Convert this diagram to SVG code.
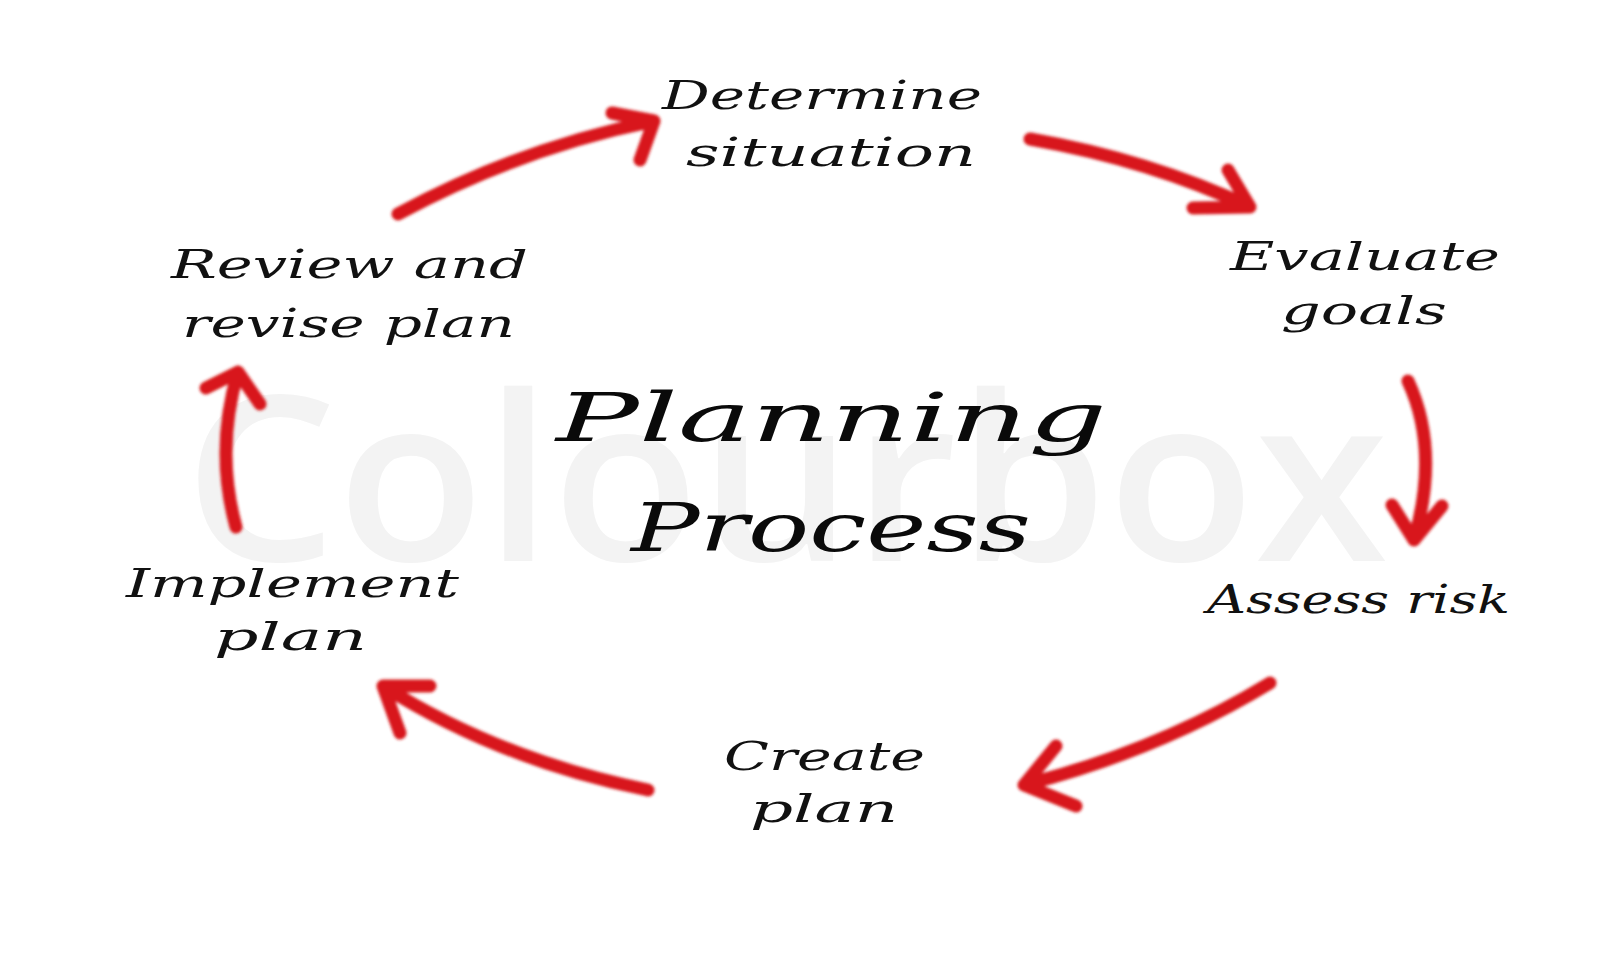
<svg xmlns="http://www.w3.org/2000/svg" width="1600" height="969" viewBox="0 0 1600 969">
<defs>
<filter id="soft" x="-10%" y="-10%" width="120%" height="120%"><feGaussianBlur stdDeviation="1.6"/></filter>
<style>
.lbl{font-family:"DejaVu Serif","Liberation Serif",serif;font-style:italic;font-size:40px;fill:#111;}
.title{font-family:"DejaVu Serif","Liberation Serif",serif;font-style:italic;font-size:68px;fill:#0a0a0a;}
.wm{font-family:"Open Sans","Liberation Sans",sans-serif;font-weight:600;font-size:230px;fill:#f3f3f3;}
.arr{fill:none;stroke:#d8161b;stroke-width:13;stroke-linecap:round;stroke-linejoin:round;}
</style>
</defs>
<rect width="1600" height="969" fill="#ffffff"/>
<text class="wm" x="184" y="561" textLength="1204" lengthAdjust="spacingAndGlyphs">Colourbox</text>
<g id="connectors" filter="url(#soft)">
<path class="arr" d="M398,214 Q520,148 654,121 M612,113 L654,121 L640,160"/>
<path class="arr" d="M1030,139 Q1150,160 1250,207 M1228,170 L1250,207 L1193,208"/>
<path class="arr" d="M1408,381 Q1440,450 1414,540 M1392,505 L1414,540 L1442,506"/>
<path class="arr" d="M1270,683 Q1160,750 1024,785 M1056,746 L1024,785 L1076,806"/>
<path class="arr" d="M648,790 Q500,760 383,686 M430,686 L383,686 L400,733"/>
<path class="arr" d="M236,527 Q215,450 238,372 M206,388 L238,372 L260,404"/>
</g>
<g id="center">
<text class="title" x="556" y="441" textLength="551" lengthAdjust="spacingAndGlyphs">Planning</text>
<text class="title" x="631" y="551" textLength="400" lengthAdjust="spacingAndGlyphs">Process</text>
</g>
<g id="determine">
<text class="lbl" x="662" y="109" textLength="320" lengthAdjust="spacingAndGlyphs">Determine</text>
<text class="lbl" x="686" y="166" textLength="290" lengthAdjust="spacingAndGlyphs">situation</text>
</g>
<g id="evaluate">
<text class="lbl" x="1230" y="270" textLength="270" lengthAdjust="spacingAndGlyphs">Evaluate</text>
<text class="lbl" x="1281" y="324" textLength="166" lengthAdjust="spacingAndGlyphs">goals</text>
</g>
<g id="assess">
<text class="lbl" x="1207" y="613" textLength="303" lengthAdjust="spacingAndGlyphs">Assess risk</text>
</g>
<g id="create">
<text class="lbl" x="724" y="770" textLength="201" lengthAdjust="spacingAndGlyphs">Create</text>
<text class="lbl" x="750" y="822" textLength="148" lengthAdjust="spacingAndGlyphs">plan</text>
</g>
<g id="implement">
<text class="lbl" x="126" y="597" textLength="333" lengthAdjust="spacingAndGlyphs">Implement</text>
<text class="lbl" x="214" y="650" textLength="153" lengthAdjust="spacingAndGlyphs">plan</text>
</g>
<g id="review">
<text class="lbl" x="171" y="278" textLength="357" lengthAdjust="spacingAndGlyphs">Review and</text>
<text class="lbl" x="182" y="337" textLength="333" lengthAdjust="spacingAndGlyphs">revise plan</text>
</g>
</svg>
